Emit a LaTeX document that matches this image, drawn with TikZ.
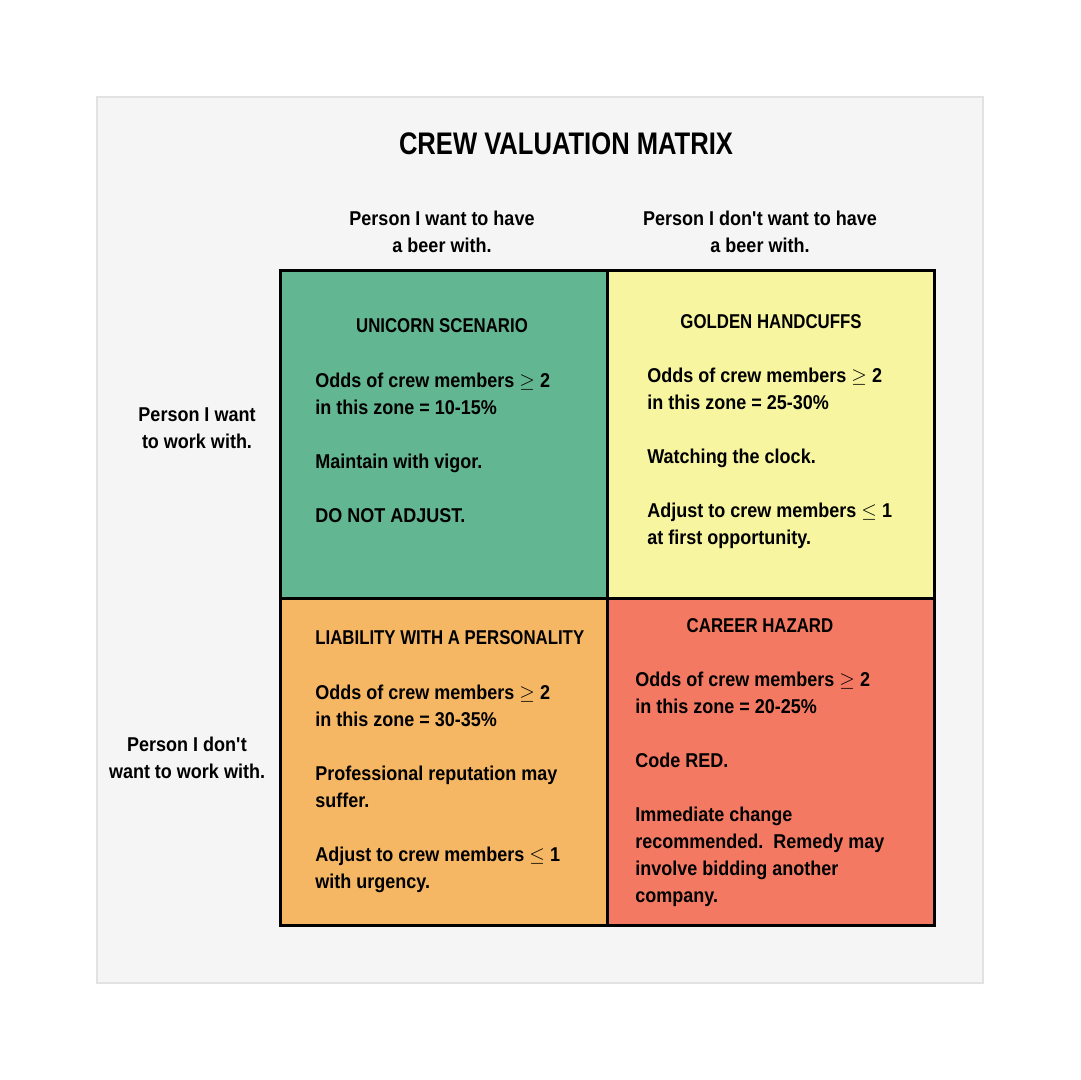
\documentclass[tikz,border=0pt]{standalone}
\usepackage{xcolor}
\usepackage{fontspec}
\setmainfont{Liberation Sans}[FakeStretch=0.9]
\newfontfamily\headfont{Liberation Sans}[FakeStretch=0.84]
\newfontfamily\titlefont{Liberation Sans}[FakeStretch=0.82]
\usepackage{tikz}
\usetikzlibrary{positioning}

\definecolor{panelgray}{HTML}{F5F5F5}
\definecolor{paneledge}{HTML}{E2E2E2}
\definecolor{unicorngreen}{HTML}{63B692}
\definecolor{cuffyellow}{HTML}{F7F59F}
\definecolor{liabilityorange}{HTML}{F6B764}
\definecolor{hazardred}{HTML}{F47962}

\begin{document}
\begin{tikzpicture}[x=0.5pt,y=-0.5pt,
  heading/.style={inner sep=0pt,font=\headfont\bfseries\fontsize{10}{13.5}\selectfont},
  body/.style={inner sep=0pt,anchor=north west,align=left,font=\bfseries\fontsize{10}{13.5}\selectfont},
  axislabel/.style={inner sep=0pt,anchor=north,align=center,font=\bfseries\fontsize{10}{13.5}\selectfont}]
\useasboundingbox[fill=white] (0,0) rectangle (1080,1080);
\draw[fill=panelgray,draw=paneledge,line width=0.6pt] (97,97) rectangle (983,983);

\node[inner sep=0pt,font=\titlefont\bfseries\fontsize{15.6}{18}\selectfont] (title) at (566,144) {CREW VALUATION MATRIX};

\node[axislabel] (beeryes) at (442,211) {Person I want to have\\a beer with.};
\node[axislabel] (beerno) at (760,211) {Person I don\textquotesingle t want to have\\a beer with.};
\node[axislabel] (workyes) at (197,407) {Person I want\\to work with.};
\node[axislabel] (workno) at (187,737) {Person I don\textquotesingle t\\want to work with.};

\fill[unicorngreen] (280,271) rectangle (607,598);
\fill[cuffyellow] (607,271) rectangle (934,598);
\fill[liabilityorange] (280,598) rectangle (607,925);
\fill[hazardred] (607,598) rectangle (934,925);
\draw[line width=1.5pt] (280,271) rectangle (934,925);
\draw[line width=1.5pt] (607,271) -- (607,925);
\draw[line width=1.5pt] (280,598) -- (934,598);

\node[heading] (unicorn) at (442,326) {UNICORN SCENARIO};
\node[body] (unicornbody) at (315,373) {Odds of crew members $\geq$ 2\\in this zone = 10-15\%\\[13.5pt]Maintain with vigor.\\[13.5pt]DO NOT ADJUST.};

\node[heading] (cuffs) at (771,322) {GOLDEN HANDCUFFS};
\node[body] (cuffsbody) at (647,368) {Odds of crew members $\geq$ 2\\in this zone = 25-30\%\\[13.5pt]Watching the clock.\\[13.5pt]Adjust to crew members $\leq$ 1\\at first opportunity.};

\node[heading,anchor=west] (liability) at (315,638) {LIABILITY WITH A PERSONALITY};
\node[body] (liabilitybody) at (315,685) {Odds of crew members $\geq$ 2\\in this zone = 30-35\%\\[13.5pt]Professional reputation may\\suffer.\\[13.5pt]Adjust to crew members $\leq$ 1\\with urgency.};

\node[heading] (hazard) at (760,626) {CAREER HAZARD};
\node[body] (hazardbody) at (635,672) {Odds of crew members $\geq$ 2\\in this zone = 20-25\%\\[13.5pt]Code RED.\\[13.5pt]Immediate change\\recommended.\ \ Remedy may\\involve bidding another\\company.};
\end{tikzpicture}
\end{document}
